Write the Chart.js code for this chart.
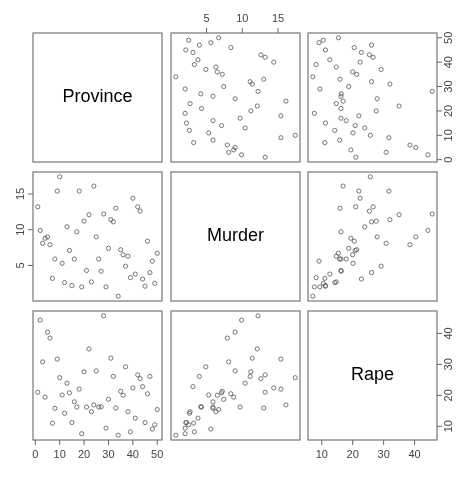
<!DOCTYPE html>
<html><head><meta charset="utf-8">
<script src="https://cdn.jsdelivr.net/npm/chart.js@4"></script>
<style>body{margin:0;background:#fff}canvas{position:absolute;left:0;top:0}</style>
</head><body>
<script>
const names = ["Province","Murder","Rape"];
const province = Array.from({length:50},(_, i)=>i+1);
const murder = [13.2,9.9,8.1,8.8,9.0,7.9,3.2,5.9,15.4,17.4,5.3,2.6,10.4,7.1,2.2,5.9,9.7,15.4,2.0,11.2,4.3,12.1,2.7,16.1,9.0,5.9,4.2,12.2,2.0,7.4,11.4,11.1,13.0,0.7,7.2,6.5,4.9,6.3,3.3,14.4,3.8,13.2,12.6,3.1,2.1,8.4,4.0,5.6,2.5,6.7];
const rape = [21.0,44.3,30.8,19.4,40.4,38.5,11.0,15.8,31.7,25.7,20.1,14.2,23.9,20.8,11.2,17.9,16.2,22.0,7.6,27.6,16.2,35.0,14.7,16.9,27.9,16.2,16.3,45.7,9.4,18.7,32.0,26.1,15.9,7.1,21.3,20.0,29.2,14.7,8.2,22.4,12.6,26.6,25.4,22.8,11.2,20.5,26.1,9.1,10.5,15.4];
const provinceTicks = [0,10,20,30,40,50];
const murderTicks = [5,10,15];
const rapeTicks = [10,20,30,40];
const vars = [province, murder, rape];
const ticksets = [provinceTicks, murderTicks, rapeTicks];
function rng(a){const mn=Math.min(...a),mx=Math.max(...a),p=(mx-mn)*0.04;return [mn-p,mx+p];}
const ranges = vars.map(rng);
const colL=[33,171,308], rowT=[33,172,311], S=129, W=474, H=477;
const FONT='11px "Liberation Sans", Arial, sans-serif';

function axisPlugin(r,c){
  return {id:'box'+r+c, afterDraw(ch){
    const g=ch.ctx, a=ch.chartArea, xs=ch.scales.x, ys=ch.scales.y;
    g.save();
    g.strokeStyle='#777'; g.lineWidth=1.2;
    g.strokeRect(a.left,a.top,a.right-a.left,a.bottom-a.top);
    g.fillStyle='#444'; g.font=FONT; g.strokeStyle='#666'; g.lineWidth=1;
    if(r===c){
      g.fillStyle='#000'; g.font='18px "Liberation Sans", Arial, sans-serif';
      g.textAlign='center'; g.textBaseline='middle';
      g.fillText(names[r],(a.left+a.right)/2,(a.top+a.bottom)/2);
      g.fillStyle='#444'; g.font=FONT;
    }
    // x axis: top for odd col index 1, bottom for cols 0,2
    if(r===0 && c===1){
      ticksets[c].forEach(t=>{const x=xs.getPixelForValue(t);
        g.beginPath();g.moveTo(x,a.top);g.lineTo(x,a.top-5);g.stroke();
        g.textAlign='center';g.textBaseline='middle';g.fillText(String(t),x,19);});
    }
    if(r===2 && c!==1){
      ticksets[c].forEach(t=>{const x=xs.getPixelForValue(t);
        g.beginPath();g.moveTo(x,a.bottom);g.lineTo(x,a.bottom+5);g.stroke();
        g.textAlign='center';g.textBaseline='middle';g.fillText(String(t),x,a.bottom+15);});
    }
    if(c===0 && r===1){
      ticksets[r].forEach(t=>{const y=ys.getPixelForValue(t);
        g.beginPath();g.moveTo(a.left,y);g.lineTo(a.left-5,y);g.stroke();
        g.save();g.translate(a.left-12,y);g.rotate(-Math.PI/2);
        g.textAlign='center';g.textBaseline='middle';g.fillText(String(t),0,0);g.restore();});
    }
    if(c===2 && r!==1){
      ticksets[r].forEach(t=>{const y=ys.getPixelForValue(t);
        g.beginPath();g.moveTo(a.right,y);g.lineTo(a.right+5,y);g.stroke();
        g.save();g.translate(a.right+12,y);g.rotate(-Math.PI/2);
        g.textAlign='center';g.textBaseline='middle';g.fillText(String(t),0,0);g.restore();});
    }
    g.restore();
  }};
}

for(let r=0;r<3;r++)for(let c=0;c<3;c++){
  const cv=document.createElement('canvas');cv.width=W;cv.height=H;
  cv.style.width=W+'px';cv.style.height=H+'px';document.body.appendChild(cv);
  const data = r===c ? [] : vars[c].map((v,i)=>({x:v,y:vars[r][i]}));
  new Chart(cv,{type:'scatter',
    data:{datasets:[{data,pointRadius:2.1,pointBorderWidth:0.8,pointBorderColor:'#555',pointBackgroundColor:'rgba(0,0,0,0)',pointHoverRadius:2.1}]},
    options:{responsive:false,animation:false,events:[],
      layout:{padding:{left:colL[c],top:rowT[r],right:W-colL[c]-S,bottom:H-rowT[r]-S}},
      plugins:{legend:{display:false},tooltip:{enabled:false}},
      scales:{x:{type:'linear',display:false,min:ranges[c][0],max:ranges[c][1]},
              y:{type:'linear',display:false,min:ranges[r][0],max:ranges[r][1]}}},
    plugins:[axisPlugin(r,c)]});
}
</script>
</body></html>
